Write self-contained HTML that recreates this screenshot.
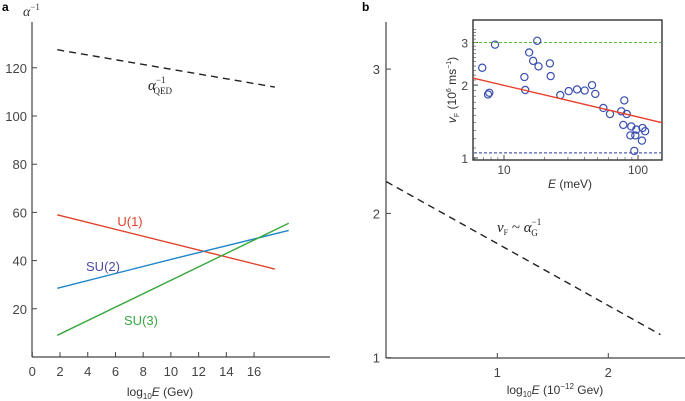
<!DOCTYPE html>
<html><head><meta charset="utf-8"><style>
body{margin:0;background:#fff}
svg{display:block;font-family:"Liberation Sans",sans-serif}
</style></head><body>
<svg id="chart" width="685" height="401" viewBox="0 0 685 401"></svg>
<script>
// Panel a data
const aXTicks=[0,2,4,6,8,10,12,14,16];
const aYTicks=[20,40,60,80,100,120];
const qedX=[1.8,17.5], qedY=[127.5,112];
const u1X=[1.8,17.5], u1Y=[59,36.5];
const su2X=[1.8,10,18.5], su2Y=[28.5,40.5,52.5];
const su3X=[1.8,18.5], su3Y=[9,55.5];
// Panel b data
const bXTicks=[1,2];
const bYTicks=[1,2,3];
const gX=[0,2.47], gY=[2.22,1.16];
// Inset data
const insetE=[6.88,7.6,7.77,8.57,14.2,14.4,15.4,16.5,17.7,18.1,22.0,22.3,26.3,30.4,35.1,40.0,45.4,48.0,55.1,61.8,75.0,79.0,82.4,77.7,89.1,87.7,95.5,97.1,93.8,107,108,113];
const insetV=[2.36,1.83,1.86,2.94,2.16,1.91,2.73,2.52,3.05,2.39,2.46,2.18,1.82,1.89,1.92,1.90,2.0,1.84,1.61,1.52,1.56,1.73,1.52,1.37,1.35,1.24,1.24,1.31,1.07,1.18,1.33,1.29];
const fitE=[5.87,151], fitV=[2.14,1.40];
const insetXTicks=[10,100];
const insetYTicks=[1,2,3];
const greenLevel=3.0, blueLevel=1.05;

const svg=document.getElementById('chart');
const NS='http://www.w3.org/2000/svg';
function el(tag,attrs,parent){const e=document.createElementNS(NS,tag);for(const k in attrs)e.setAttribute(k,attrs[k]);(parent||svg).appendChild(e);return e;}
function txt(x,y,s,size,fill,anchor,parent){const t=el('text',{x:x,y:y,'font-size':size,fill:fill||'#333','text-anchor':anchor||'middle'},parent);t.textContent=s;return t;}

// axes functions
const ax=v=>32.3+v*13.86, ay=v=>357-v*2.41;
const bx=v=>386.3+v*111, by=v=>357.7-(v-1)*144.3;
const ix=v=>504+(Math.log10(v)-1)*134, iy=v=>158-Math.log10(v)*242;

// ---- panel a ----
let t=el('text',{x:2,y:11,'font-size':12,'font-weight':'bold',fill:'#000'});t.textContent='a';

let g=el('g',{});
el('line',{x1:32,y1:22,x2:32,y2:357,stroke:'#444','stroke-width':1.2},g);
el('line',{x1:32,y1:357,x2:330,y2:357,stroke:'#444','stroke-width':1.2},g);
aXTicks.forEach(v=>{el('line',{x1:ax(v),y1:357,x2:ax(v),y2:352,stroke:'#444'},g);txt(ax(v),376,String(v),13,'#444','middle',g);});
aYTicks.forEach(v=>{el('line',{x1:32,y1:ay(v),x2:37,y2:ay(v),stroke:'#444'},g);txt(27,ay(v)+5,String(v),13,'#444','end',g);});
t=el('text',{x:160,y:396,'font-size':12,fill:'#333','text-anchor':'middle'});
t.innerHTML='log<tspan font-size="8" dy="3">10</tspan><tspan dy="-3" font-style="italic">E</tspan> (Gev)';

t=el('text',{x:23,y:16,'font-size':14,fill:'#333','font-family':'Liberation Serif,serif','font-style':'italic'});
t.innerHTML='α<tspan font-size="9" dy="-6" font-style="normal">−1</tspan>';

function poly(xs,ys,fx,fy,color,dash,name,w){const p=el('polyline',{points:xs.map((x,i)=>fx(x)+','+fy(ys[i])).join(' '),fill:'none',stroke:color,'stroke-width':w||1.4,'stroke-dasharray':dash||'none'});return p;}
poly(qedX,qedY,ax,ay,'#222','7,5','qed-line');
poly(u1X,u1Y,ax,ay,'#e0412a',null,'u1-line');
poly(su2X,su2Y,ax,ay,'#1f86c8',null,'su2-line');
poly(su3X,su3Y,ax,ay,'#3aa840',null,'su3-line');
t=txt(130,226,'U(1)',13,'#e0412a');
t=txt(103,271,'SU(2)',13,'#4a4aa8');
t=txt(141,325,'SU(3)',13,'#3aa840');
t=el('text',{x:148,y:90,'font-size':15,fill:'#222','font-family':'Liberation Serif,serif'});
t.innerHTML='<tspan font-style="italic">α</tspan><tspan font-size="9" dy="-7">−1</tspan><tspan font-size="9" dx="-12" dy="11">QED</tspan>';


// ---- panel b ----
t=el('text',{x:362,y:11,'font-size':12,'font-weight':'bold',fill:'#000'});t.textContent='b';

g=el('g',{});
el('line',{x1:386,y1:22,x2:386,y2:358,stroke:'#444','stroke-width':1.2},g);
el('line',{x1:386,y1:358,x2:685,y2:358,stroke:'#444','stroke-width':1.2},g);
bXTicks.forEach(v=>{el('line',{x1:bx(v),y1:358,x2:bx(v),y2:353,stroke:'#444'},g);txt(bx(v),377,String(v),13,'#444','middle',g);});
bYTicks.forEach(v=>{el('line',{x1:386,y1:by(v),x2:391,y2:by(v),stroke:'#444'},g);txt(380,by(v)+5,String(v),13,'#444','end',g);});
t=el('text',{x:555,y:394,'font-size':12,fill:'#333','text-anchor':'middle'});
t.innerHTML='log<tspan font-size="8" dy="3">10</tspan><tspan dy="-3" font-style="italic">E</tspan> (10<tspan font-size="8" dy="-5">−12</tspan><tspan dy="5"> Gev)</tspan>';

poly(gX,gY,bx,by,'#222','7,5','vf-alpha-line');
t=el('text',{x:497,y:232,'font-size':15,fill:'#222','font-family':'Liberation Serif,serif'});
t.innerHTML='<tspan font-style="italic">v</tspan><tspan font-size="8" dy="3">F</tspan><tspan dy="-3"> ~ </tspan><tspan font-style="italic">α</tspan><tspan font-size="9" dy="-7">−1</tspan><tspan font-size="9" dx="-10" dy="11">G</tspan>';


// ---- inset ----
g=el('g',{});
el('rect',{x:473,y:20,width:189,height:140,fill:'#fff',stroke:'#222','stroke-width':1.3},g);
for(let v=1;v<=3.45;v+=0.1){const y=iy(v);if(y<21)break;el('line',{x1:473,y1:y,x2:476,y2:y,stroke:'#444','stroke-width':0.6},g);}
for(let d of [6,7,8,9,20,30,40,50,60,70,80,90,150]){const x=ix(d);if(x>473&&x<662)el('line',{x1:x,y1:160,x2:x,y2:157,stroke:'#444','stroke-width':0.6},g);}
insetYTicks.forEach(v=>{el('line',{x1:473,y1:iy(v),x2:478,y2:iy(v),stroke:'#444'},g);txt(468,iy(v)+5,String(v),12,'#444','end',g);});
insetXTicks.forEach(v=>{el('line',{x1:ix(v),y1:160,x2:ix(v),y2:155,stroke:'#444'},g);txt(ix(v),174,String(v),12,'#444','middle',g);});
let l=el('line',{x1:474,y1:iy(greenLevel),x2:661,y2:iy(greenLevel),stroke:'#5cbf3a','stroke-width':1,'stroke-dasharray':'3,2'},g);

l=el('line',{x1:474,y1:iy(blueLevel),x2:661,y2:iy(blueLevel),stroke:'#2a3aa8','stroke-width':1,'stroke-dasharray':'3,2'},g);

poly(fitE,fitV,ix,iy,'#e8402a',null,'fit-line',1.4);
insetE.forEach((e,i)=>{const c=el('circle',{cx:ix(e),cy:iy(insetV[i]),r:3.6,fill:'none',stroke:'#3a4fb0','stroke-width':1.2},g);

});
t=el('text',{x:570,y:188,'font-size':12,fill:'#333','text-anchor':'middle'},g);
t.innerHTML='<tspan font-style="italic">E</tspan> (meV)';

t=el('text',{x:0,y:0,'font-size':12,fill:'#333','text-anchor':'middle',transform:'translate(456,90) rotate(-90)'},g);
t.innerHTML='<tspan font-style="italic">v</tspan><tspan font-size="7" dy="3">F</tspan><tspan dy="-3"> (10</tspan><tspan font-size="7" dy="-5">6</tspan><tspan dy="5"> ms</tspan><tspan font-size="7" dy="-5">−1</tspan><tspan dy="5">)</tspan>';

</script>
</body></html>
